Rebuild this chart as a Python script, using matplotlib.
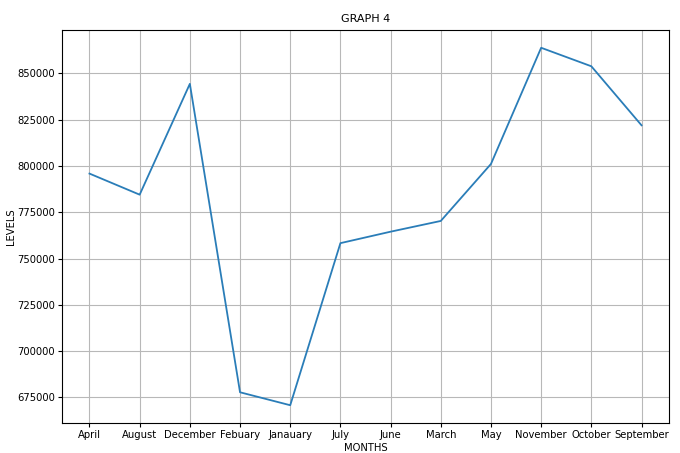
import matplotlib
matplotlib.use("Agg")
import matplotlib.pyplot as plt

months = ["April", "August", "December", "Febuary", "Janauary", "July",
          "June", "March", "May", "November", "October", "September"]
levels = [795900, 784500, 844400, 677700, 670700, 758300,
          764500, 770300, 801100, 863900, 853900, 822000]

plt.rcParams['font.size'] = 7.2
fig = plt.figure(figsize=(6.8, 4.53), dpi=100)
ax = fig.add_axes([0.091, 0.066, 0.893, 0.868])
ax.plot(months, levels, color='#2a7db8', linewidth=1.3)
ax.grid(True, color='#b8b8b8')
ax.set_title('GRAPH 4', fontsize=8)
ax.set_xlabel('MONTHS', labelpad=2)
ax.set_ylabel('LEVELS', labelpad=1)
ax.tick_params(length=3, pad=2)
fig.savefig('out.png', dpi=100)
